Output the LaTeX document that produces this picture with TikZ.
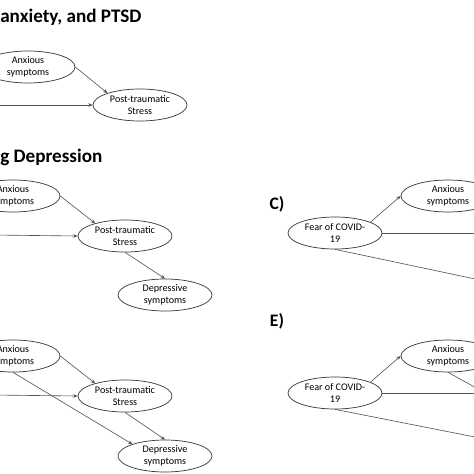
\documentclass[tikz,border=0pt]{standalone}
\usepackage{fontspec}
\setmainfont{Carlito}
\usetikzlibrary{arrows.meta,shapes.geometric}
\definecolor{linkGray}{RGB}{85,85,85}
\definecolor{rimGray}{RGB}{55,55,55}
\tikzset{
  var/.style={ellipse, draw=rimGray, fill=white, line width=0.5pt, inner sep=0pt,
              minimum width=2.35cm, minimum height=0.8cm, align=center,
              font=\fontsize{7.2}{8.6}\selectfont},
  link/.style={-{Stealth[length=3pt,width=2.6pt]}, draw=linkGray, line width=0.45pt},
  heading/.style={anchor=west, inner sep=0pt, font=\fontsize{13.6}{16}\selectfont\bfseries},
  panel/.style={inner sep=0pt, font=\fontsize{12.5}{15}\selectfont\bfseries}
}

\begin{document}
\begin{tikzpicture}[x=0.025cm, y=-0.025cm]
\useasboundingbox (0,0) rectangle (474,474);
\fill[white] (0,0) rectangle (474,474);
\clip (0,0) rectangle (474,474);

\node[heading] (tA) at (0,17) {anxiety, and PTSD};
\node[heading] (tB) at (0,157) {g Depression};
\node[panel] (tC) at (277,204) {C)};
\node[panel] (tE) at (277,321) {E)};

% Panel A
\node[var] (anxA) at (28,67) {Anxious\\symptoms};
\node[var] (ptsA) at (140,105) {Post-traumatic\\Stress};
\coordinate (inA) at (-8,105);
\draw[link] (anxA.east) -- (ptsA.160);
\draw[link] (inA) -- (ptsA.west);

% Panel B
\node[var] (anxB) at (13,196) {Anxious\\symptoms};
\node[var] (ptsB) at (125,236) {Post-traumatic\\Stress};
\node[var] (depB) at (165,295) {Depressive\\symptoms};
\coordinate (inB) at (-8,235);
\draw[link] (anxB.east) -- (ptsB.157);
\draw[link] (inB) -- (ptsB.west);
\draw[link] (ptsB.south) -- (depB.north);

% Panel C
\node[var] (fearC) at (335,233) {Fear of COVID-\\19};
\node[var] (anxC) at (448,196) {Anxious\\symptoms};
\coordinate (outC1) at (480,233);
\coordinate (outC2) at (480,280);
\draw[link] (fearC.17) -- (anxC.west);
\draw[link] (fearC.east) -- (outC1);
\draw[link] (fearC.south) -- (outC2);

% Panel D
\node[var] (anxD) at (13,356) {Anxious\\symptoms};
\node[var] (ptsD) at (125,396) {Post-traumatic\\Stress};
\node[var] (depD) at (165,456) {Depressive\\symptoms};
\coordinate (inD) at (-8,395);
\draw[link] (anxD.east) -- (ptsD.157);
\draw[link] (inD) -- (ptsD.west);
\draw[link] (anxD.south) -- (depD.160);
\draw[link] (ptsD.south) -- (depD.north);

% Panel E
\node[var] (fearE) at (335,393) {Fear of COVID-\\19};
\node[var] (anxE) at (448,356) {Anxious\\symptoms};
\coordinate (outE1) at (480,393);
\coordinate (outE2) at (480,438);
\coordinate (outE3) at (480,390);
\draw[link] (fearE.17) -- (anxE.west);
\draw[link] (fearE.east) -- (outE1);
\draw[link] (fearE.south) -- (outE2);
\draw[link] (anxE.south) -- (outE3);
\end{tikzpicture}
\end{document}
